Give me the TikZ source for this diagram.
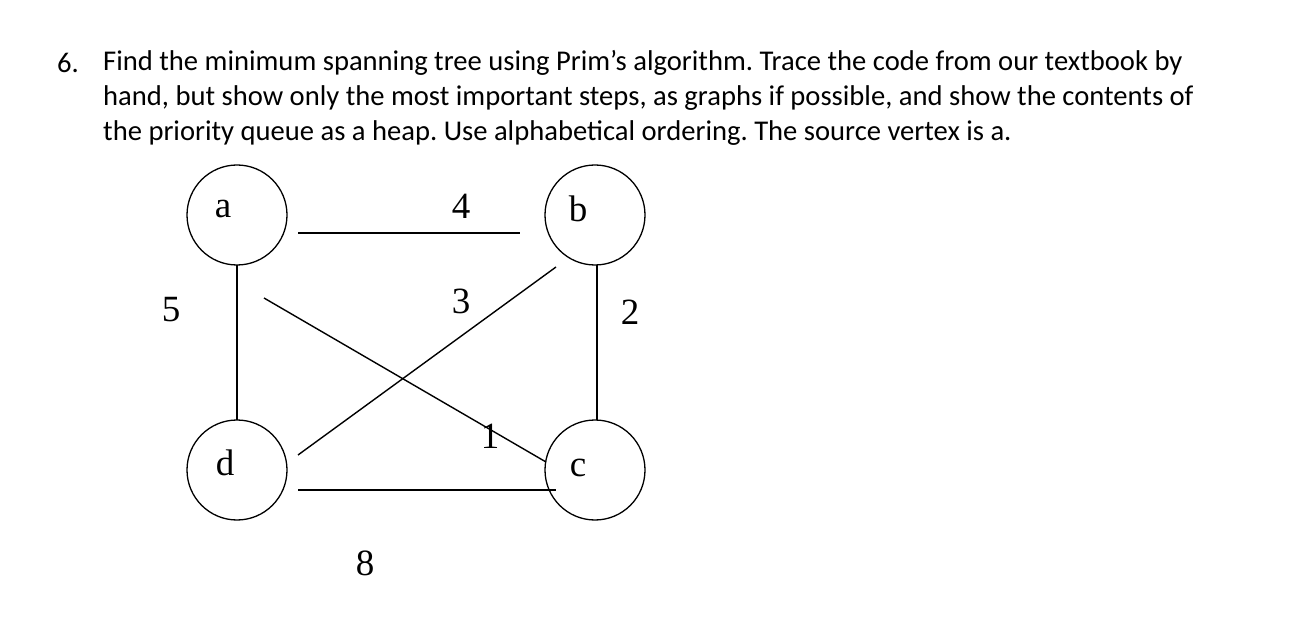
\documentclass[tikz,border=0pt]{standalone}
\usepackage{fontspec}
\setmainfont{Carlito}
\newfontfamily\tnr{Liberation Serif}
\frenchspacing
\begin{document}
\begin{tikzpicture}[x=1pt,y=-1pt,
  vtx/.style={draw,circle,minimum size=100pt,line width=1.3pt,inner sep=0pt},
  edge/.style={line width=1.4pt},
  lbl/.style={font=\tnr\fontsize{37}{37}\selectfont,inner sep=0pt},
  txt/.style={anchor=west,font=\fontsize{28.6}{32}\selectfont,inner sep=0pt}]
\useasboundingbox (0,0) rectangle (1302,636);
\node[txt] (n6) at (57,63) {6.};
\node[txt] (l1) at (103,63) {Find the minimum spanning tree using Prim’s algorithm. Trace the code from our textbook by};
\node[txt] (l2) at (103,98) {hand, but show only the most important steps, as graphs if possible, and show the contents of};
\node[txt] (l3) at (103,133) {the priority queue as a heap. Use alphabetical ordering. The source vertex is a.};
\node[vtx] (a) at (237,215) {};
\node[vtx] (b) at (595,215) {};
\node[vtx] (d) at (237,470) {};
\node[vtx] (c) at (595,470) {};
\node[lbl] (ta) at (223,209) {a};
\node[lbl] (tb) at (578,209) {b};
\node[lbl] (td) at (225,463) {d};
\node[lbl] (tc) at (578,468) {c};
\coordinate (ab1) at (298,233); \coordinate (ab2) at (520,233);
\coordinate (ad1) at (237,265); \coordinate (ad2) at (237,420);
\coordinate (bc1) at (597,265); \coordinate (bc2) at (597,420);
\coordinate (dc1) at (298,490); \coordinate (dc2) at (556,490);
\coordinate (ac1) at (264,298); \coordinate (ac2) at (546,462);
\coordinate (db1) at (298,455); \coordinate (db2) at (556,267);
\draw[edge] (ab1) -- (ab2);
\draw[edge] (ad1) -- (ad2);
\draw[edge] (bc1) -- (bc2);
\draw[edge] (dc1) -- (dc2);
\draw[edge] (ac1) -- (ac2);
\draw[edge] (db1) -- (db2);
\node[lbl] (w4) at (461,206) {4};
\node[lbl] (w3) at (461,301) {3};
\node[lbl] (w5) at (171,310) {5};
\node[lbl] (w2) at (630,312) {2};
\node[lbl] (w8) at (365,563) {8};
\node[lbl] (w1) at (490,436) {1};
\end{tikzpicture}
\end{document}
